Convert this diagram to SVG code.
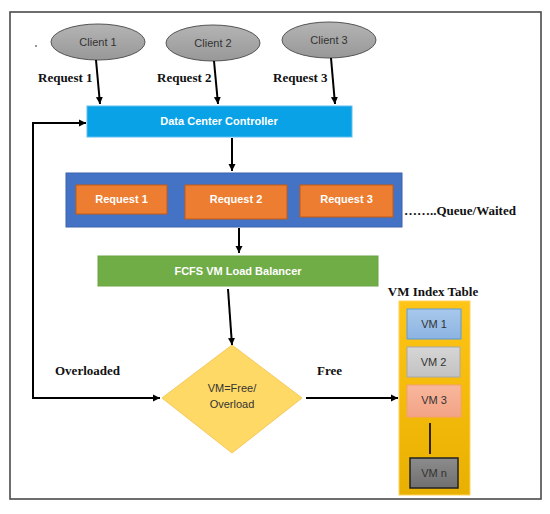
<svg xmlns="http://www.w3.org/2000/svg" width="550" height="514" viewBox="0 0 550 514">
<defs>
<marker id="ah" markerWidth="8" markerHeight="8" refX="7" refY="4" orient="auto" markerUnits="userSpaceOnUse">
<path d="M0,0.5 L7,4 L0,7.5 Z" fill="#000"/>
</marker>
<linearGradient id="gClient" x1="0" y1="0" x2="0" y2="1">
<stop offset="0" stop-color="#b4b4b4"/><stop offset="1" stop-color="#989898"/>
</linearGradient>
<linearGradient id="gTable" x1="0" y1="0" x2="0" y2="1">
<stop offset="0" stop-color="#ffc516"/><stop offset="1" stop-color="#e8b000"/>
</linearGradient>
<linearGradient id="gVm1" x1="0" y1="0" x2="0" y2="1">
<stop offset="0" stop-color="#a8c8ec"/><stop offset="1" stop-color="#8cb4e2"/>
</linearGradient>
<linearGradient id="gVm2" x1="0" y1="0" x2="0" y2="1">
<stop offset="0" stop-color="#d6d6d6"/><stop offset="1" stop-color="#c2c2c2"/>
</linearGradient>
<linearGradient id="gVm3" x1="0" y1="0" x2="0" y2="1">
<stop offset="0" stop-color="#f8b79c"/><stop offset="1" stop-color="#f3a386"/>
</linearGradient>
<linearGradient id="gVmn" x1="0" y1="0" x2="0" y2="1">
<stop offset="0" stop-color="#8c8c8c"/><stop offset="1" stop-color="#707070"/>
</linearGradient>
</defs>
<style>
.lbl{font-family:"Liberation Serif","Times New Roman",serif;font-weight:bold;font-size:13px;fill:#111}
.wt{font-family:"Liberation Sans",Arial,sans-serif;font-weight:bold;font-size:11px;fill:#fff;text-anchor:middle}
.dk{font-family:"Liberation Sans",Arial,sans-serif;font-size:11px;fill:#333;text-anchor:middle}
.conn{stroke:#000;stroke-width:2;fill:none}
.arr{marker-end:url(#ah)}
</style>
<rect x="0" y="0" width="550" height="514" fill="#fff"/>
<rect x="10" y="12" width="531" height="487" fill="#fff" stroke="#4a4a4a" stroke-width="1.6"/>
<circle cx="36" cy="46" r="0.9" fill="#666"/>

<g id="client1"><ellipse cx="98" cy="42" rx="47" ry="18" fill="url(#gClient)" stroke="#555" stroke-width="1"/><text class="dk" x="98" y="46">Client 1</text></g>
<g id="client2"><ellipse cx="213" cy="43" rx="47" ry="18" fill="url(#gClient)" stroke="#555" stroke-width="1"/><text class="dk" x="213" y="47">Client 2</text></g>
<g id="client3"><ellipse cx="329" cy="40" rx="47" ry="18" fill="url(#gClient)" stroke="#555" stroke-width="1"/><text class="dk" x="329" y="44">Client 3</text></g>

<g id="dcc"><rect x="87" y="106" width="265" height="31" fill="#0aa2e6" stroke="#5fc0ee" stroke-width="1"/><text class="wt" x="219" y="125">Data Center Controller</text></g>

<g id="queue">
<rect x="66" y="173" width="336" height="54" fill="#4472c4" stroke="#3a63ad" stroke-width="1"/>
<g id="q1"><rect x="76" y="185" width="91" height="29" fill="#ed7d31" stroke="#c55a11" stroke-width="1"/><text class="wt" x="121.5" y="203">Request 1</text></g>
<g id="q2"><rect x="185" y="185" width="102" height="34" fill="#ed7d31" stroke="#c55a11" stroke-width="1"/><text class="wt" x="236" y="203">Request 2</text></g>
<g id="q3"><rect x="300" y="185" width="93" height="32" fill="#ed7d31" stroke="#c55a11" stroke-width="1"/><text class="wt" x="346.5" y="203">Request 3</text></g>
</g>
<text class="lbl" x="404" y="215">……..Queue/Waited</text>

<g id="fcfs"><rect x="98" y="256" width="280" height="30" fill="#70ad47" stroke="#6aa444" stroke-width="1"/><text class="wt" x="238" y="275">FCFS VM Load Balancer</text></g>

<g id="decision"><polygon points="232,345 302,398 232,453 162,398" fill="#ffd966" stroke="#f5c85a" stroke-width="1"/><text class="dk" x="232" y="392">VM=Free/</text><text class="dk" x="232" y="408">Overload</text></g>

<g id="vmtable">
<text class="lbl" x="433" y="296" text-anchor="middle" font-size="13.5">VM Index Table</text>
<rect x="399" y="301" width="71" height="194" fill="url(#gTable)" stroke="#ffd35c" stroke-width="1"/>
<g id="vm1"><rect x="407" y="309" width="54" height="30" fill="url(#gVm1)" stroke="#5b9bd5" stroke-width="1"/><text class="dk" x="434" y="328">VM 1</text></g>
<g id="vm2"><rect x="407" y="347" width="53" height="30" fill="url(#gVm2)" stroke="#a8a8a8" stroke-width="1"/><text class="dk" x="433.5" y="366">VM 2</text></g>
<g id="vm3"><rect x="407" y="385" width="54" height="32" fill="url(#gVm3)" stroke="#f4a070" stroke-width="1"/><text class="dk" x="434" y="404">VM 3</text></g>
<g id="vmn"><rect x="410" y="458" width="48" height="30" fill="url(#gVmn)" stroke="#222" stroke-width="1.5"/><text class="dk" x="434" y="477">VM n</text></g>
</g>

<g id="connectors">
<line class="conn arr" x1="96" y1="60" x2="100" y2="104"/>
<line class="conn arr" x1="214" y1="61" x2="218" y2="104"/>
<line class="conn arr" x1="331" y1="58" x2="335" y2="104"/>
<line class="conn arr" x1="232" y1="138" x2="232" y2="171"/>
<line class="conn arr" x1="239" y1="228" x2="239" y2="253"/>
<line class="conn arr" x1="228" y1="289" x2="232" y2="345"/>
<line class="conn arr" x1="306" y1="398" x2="398" y2="398"/>
<polyline class="conn arr" points="33,123 33,398 160,398"/>
<line class="conn arr" x1="32" y1="123" x2="86" y2="123"/>
<line x1="430" y1="423" x2="430" y2="454" stroke="#000" stroke-width="1.6"/>
</g>

<text class="lbl" x="38" y="82">Request 1</text>
<text class="lbl" x="157" y="82">Request 2</text>
<text class="lbl" x="273" y="82">Request 3</text>
<text class="lbl" x="55" y="375">Overloaded</text>
<text class="lbl" x="317" y="375">Free</text>
</svg>
